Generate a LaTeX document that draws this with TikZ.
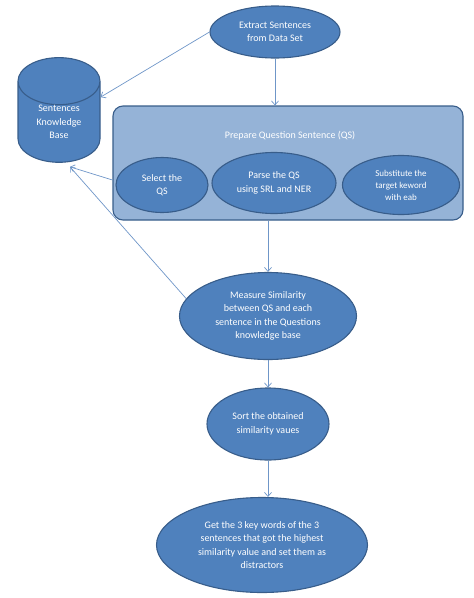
\documentclass[tikz,border=0pt]{standalone}
\usepackage{fontspec}
\setmainfont{Carlito}
\usetikzlibrary{shapes.geometric,arrows.meta}
\definecolor{stepblue}{HTML}{4F81BD}
\definecolor{rimblue}{HTML}{385D8A}
\definecolor{paleblue}{HTML}{95B3D7}
\definecolor{lineblue}{HTML}{6F96C8}
\begin{document}
\begin{tikzpicture}[x=1pt,y=-1pt,
    font=\fontsize{10}{13.5}\selectfont,
    stepnode/.style={ellipse, draw=rimblue, fill=stepblue, line width=1.1pt,
        text=white, align=center, inner sep=0pt},
    flow/.style={draw=lineblue, line width=0.7pt,
        -{Straight Barb[length=4pt,width=7pt]}}]
    \useasboundingbox (0,0) rectangle (474,598);

    \node[stepnode, minimum width=130pt, minimum height=52pt] (extract) at (275,32) {Extract Sentences\\from Data Set};
    \node[cylinder, shape border rotate=90, aspect=1.05, draw=rimblue, fill=stepblue, line width=1.1pt,
        text=white, align=center, minimum width=82pt, minimum height=65pt, inner sep=0pt] (kb) at (59,122) {Sentences\\Knowledge\\Base};

    \node[draw=rimblue, fill=paleblue, rounded corners=10pt, line width=1.1pt,
        minimum width=350pt, minimum height=114pt] (qs) at (288,163) {};
    \node[text=white] (qstitle) at (290,136) {Prepare Question Sentence (QS)};
    \node[stepnode, minimum width=92pt, minimum height=55pt] (select) at (162,185) {Select the\\QS};
    \node[stepnode, minimum width=124pt, minimum height=61pt] (parse) at (274,183) {Parse the QS\\using SRL and NER};
    \node[stepnode, minimum width=117pt, minimum height=59pt, font=\fontsize{9}{12}\selectfont] (subst) at (401,185) {Substitute the\\target keword\\with eab};

    \node[stepnode, minimum width=177pt, minimum height=87pt] (measure) at (268,316) {Measure Similarity\\between QS and each\\sentence in the Questions\\knowledge base};
    \node[stepnode, minimum width=122pt, minimum height=72pt] (sort) at (268,424) {Sort the obtained\\similarity vaues};
    \node[stepnode, minimum width=211pt, minimum height=95pt] (distract) at (262,545) {Get the 3 key words of the 3\\sentences that got the highest\\similarity value and set them as\\distractors};

    \coordinate (kbfoot) at ([xshift=11pt,yshift=-4pt]kb.south);

    \draw[flow] (extract.west) -- (kb);
    \draw[flow] (extract.south) -- (extract.south |- qs.north);
    \draw[flow] ([yshift=-17pt]qs.west) -- (kbfoot);
    \draw[flow] (measure.168) -- (kbfoot);
    \draw[flow] (qs.south -| measure.north) -- (measure.north);
    \draw[flow] (measure.south) -- (sort.north);
    \draw[flow] (sort.south) -- (sort.south |- distract.north);
\end{tikzpicture}
\end{document}
